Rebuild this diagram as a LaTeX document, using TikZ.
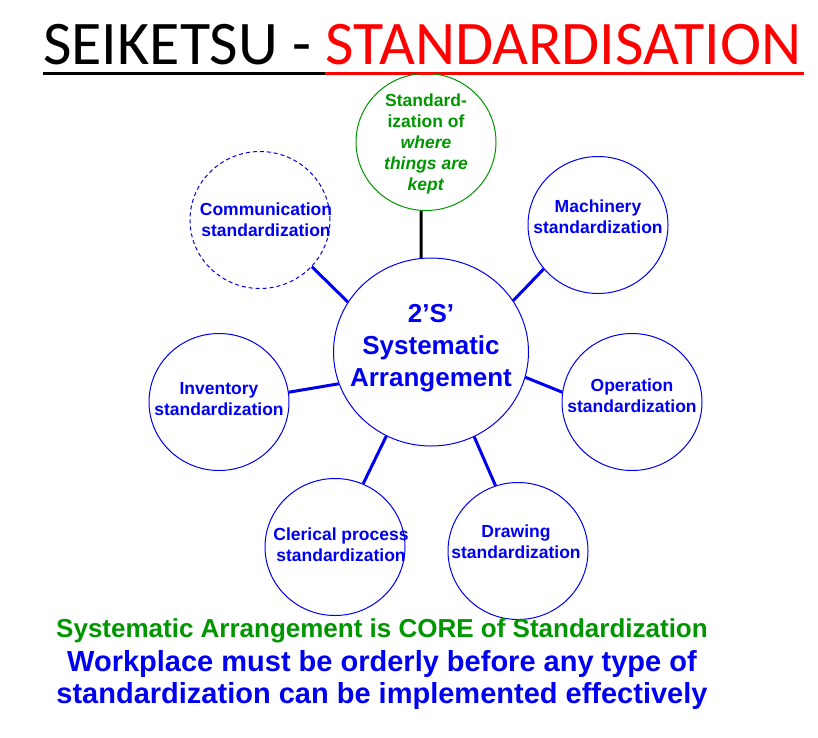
\documentclass[tikz,border=0pt]{standalone}
\usepackage{fontspec}
\setmainfont{Liberation Sans}
\newfontfamily\titlefont{Carlito}
\usetikzlibrary{shapes.geometric}
\definecolor{sgreen}{RGB}{0,150,0}
\definecolor{sblue}{RGB}{0,0,240}

\begin{document}
\begin{tikzpicture}[x=1pt, y=-1pt,
  bubble/.style={ellipse, draw=sblue, line width=1pt, minimum width=140pt, minimum height=137pt, inner sep=0pt},
  bubtext/.style={align=center, inner sep=0pt, text=sblue, font=\fontsize{17.5}{21}\selectfont\bfseries},
  spoke/.style={draw=sblue, line width=3pt},
  title/.style={font=\titlefont\fontsize{62}{70}\selectfont, inner sep=0pt, anchor=base west}]
\useasboundingbox (0,0) rectangle (818,737);

% title
\node[title] (tblack) at (43,64) {SEIKETSU -\kern0.226em};
\node[title, text=red] (tred) at (tblack.base east) {STANDARDISATION};
\draw[line width=3pt] ([yshift=-9pt]tblack.base west) -- ([yshift=-9pt]tblack.base east);
\draw[line width=3pt, red] ([yshift=-9pt]tred.base west) -- ([yshift=-9pt,xshift=2pt]tred.base east);

% centre
\node[ellipse, draw=sblue, line width=1pt, minimum width=195pt, minimum height=188pt, inner sep=0pt] (main) at (431,352) {};
\node[align=center, inner sep=0pt, text=sblue, font=\fontsize{26}{32}\selectfont\bfseries] (maintxt) at ([yshift=3.5pt]main) {2’S’\\Systematic\\Arrangement};

% bubbles
\node[bubble, draw=sgreen] (where) at (426,142) {};
\node[bubtext, text=sgreen] (wheretxt) at ([yshift=-1.5pt]where) {Standard-\\ization of\\\textit{where}\\\textit{things are}\\\textit{kept}};
\node[bubble, dashed, dash pattern=on 4pt off 3pt] (comm) at (260,220) {};
\node[bubtext] (commtxt) at ([xshift=6pt]comm) {Communication\\standardization};
\node[bubble] (mach) at (598,225) {};
\node[bubtext] (machtxt) at ([yshift=8pt]mach) {Machinery\\standardization};
\node[bubble] (oper) at (632,402) {};
\node[bubtext] (opertxt) at ([yshift=6pt]oper) {Operation\\standardization};
\node[bubble] (drawg) at (518,551) {};
\node[bubtext] (drawgtxt) at ([yshift=9pt,xshift=-2pt]drawg) {Drawing\\standardization};
\node[bubble] (cler) at (335,547) {};
\node[bubtext] (clertxt) at ([yshift=2pt,xshift=6pt]cler) {Clerical process\\standardization};
\node[bubble] (inv) at (219,402) {};
\node[bubtext] (invtxt) at ([yshift=3pt]inv) {Inventory\\standardization};

% spokes
\draw[spoke, draw=black] (where.-94) -- (main.96);
\foreach \n/\a/\b in {comm/-42/149, mach/219/32, oper/172/-15, drawg/109/-63, cler/66/-118, inv/8/199}
  \draw[spoke] (\n.\a) -- (main.\b);

% bottom text
\node[anchor=base, inner sep=0pt, text=sgreen, font=\fontsize{26}{30}\selectfont\bfseries] (core) at (382,637) {Systematic Arrangement is CORE of Standardization};
\node[anchor=base, inner sep=0pt, text=sblue, font=\fontsize{29}{32}\selectfont\bfseries] (work1) at (382,671) {Workplace must be orderly before any type of};
\node[anchor=base, inner sep=0pt, text=sblue, font=\fontsize{29}{32}\selectfont\bfseries] (work2) at (382,703) {standardization can be implemented effectively};
\end{tikzpicture}
\end{document}
